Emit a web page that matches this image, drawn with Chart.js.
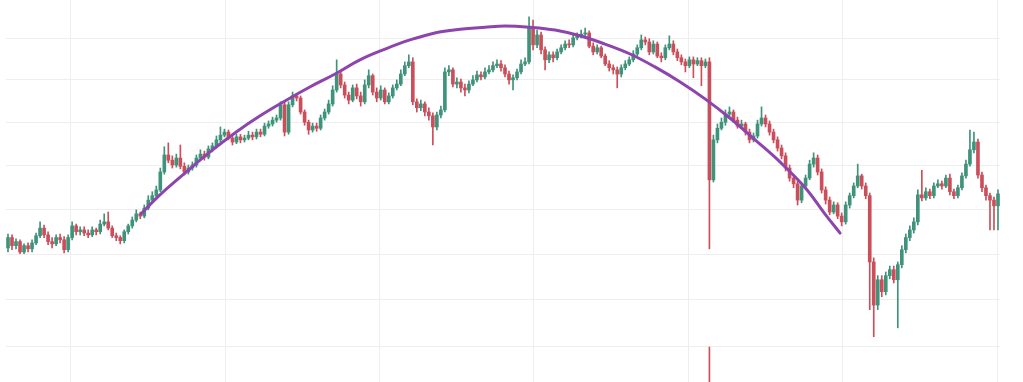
<!DOCTYPE html>
<html><head><meta charset="utf-8">
<script src="https://cdn.jsdelivr.net/npm/chart.js@4.4.1/dist/chart.umd.min.js"></script>
<style>html,body{margin:0;padding:0;background:#fff;}#wrap{width:1023px;height:382px;position:relative;}</style>
</head><body><div id="wrap"><canvas id="c"></canvas></div>
<script>
// OHLC prices, one candle per period
const openP = [
5114,5137,5119,5128,5105,5119,5112,5125,5141,5158,
5143,5128,5123,5137,5132,5110,5137,5163,5150,5154,
5147,5143,5154,5150,5167,5172,5158,5141,5137,5130,
5150,5163,5176,5190,5185,5203,5221,5231,5244,5285,
5324,5312,5301,5317,5298,5285,5294,5301,5317,5326,
5319,5338,5345,5359,5370,5377,5363,5354,5366,5359,
5363,5370,5366,5377,5372,5391,5396,5405,5410,5441,
5377,5441,5462,5457,5424,5400,5382,5391,5386,5410,
5424,5443,5476,5514,5488,5464,5452,5481,5462,5448,
5488,5510,5471,5457,5476,5448,5462,5481,5490,5514,
5534,5543,5448,5434,5443,5424,5415,5389,5417,5429,
5519,5524,5490,5495,5481,5476,5490,5500,5512,5507,
5519,5524,5534,5538,5529,5514,5500,5505,5519,5538,
5543,5625,5584,5608,5572,5548,5560,5553,5567,5577,
5586,5584,5601,5606,5610,5613,5581,5567,5577,5557,
5538,5529,5524,5514,5529,5538,5548,5562,5577,5596,
5591,5567,5586,5557,5553,5577,5586,5567,5553,5543,
5534,5548,5538,5546,5534,5543,5267,5359,5386,5400,
5419,5424,5405,5391,5396,5377,5359,5368,5396,5410,
5396,5377,5359,5340,5322,5294,5271,5258,5221,5253,
5271,5303,5317,5285,5244,5221,5194,5210,5185,5172,
5210,5231,5253,5276,5253,5231,5083,4989,5044,5018,
5053,5066,5044,5077,5110,5137,5154,5172,5233,5226,
5240,5231,5253,5258,5253,5271,5240,5231,5249,5276,
5303,5336,5354,5278,5249,5231,5221,5208];
const closeP = [
5137,5119,5128,5105,5119,5112,5125,5141,5158,5143,
5128,5123,5137,5132,5110,5137,5163,5150,5154,5147,
5143,5154,5150,5167,5172,5158,5141,5137,5130,5150,
5163,5176,5190,5185,5203,5221,5231,5244,5285,5324,
5312,5301,5317,5298,5285,5294,5301,5317,5326,5319,
5338,5345,5359,5370,5377,5363,5354,5366,5359,5363,
5370,5366,5377,5372,5391,5396,5405,5410,5441,5377,
5441,5462,5457,5424,5400,5382,5391,5386,5410,5424,
5443,5476,5514,5488,5464,5452,5481,5462,5448,5488,
5510,5471,5457,5476,5448,5462,5481,5490,5514,5534,
5543,5448,5434,5443,5424,5415,5389,5417,5429,5519,
5524,5490,5495,5481,5476,5490,5500,5512,5507,5519,
5524,5534,5538,5529,5514,5500,5505,5519,5538,5543,
5625,5584,5608,5572,5548,5560,5553,5567,5577,5586,
5584,5601,5606,5610,5613,5581,5567,5577,5557,5538,
5529,5524,5514,5529,5538,5548,5562,5577,5596,5591,
5567,5586,5557,5553,5577,5586,5567,5553,5543,5534,
5548,5538,5546,5534,5543,5267,5359,5386,5400,5419,
5424,5405,5391,5396,5377,5359,5368,5396,5410,5396,
5377,5359,5340,5322,5294,5271,5258,5221,5253,5271,
5303,5317,5285,5244,5221,5194,5210,5185,5172,5210,
5231,5253,5276,5253,5231,5083,4989,5044,5018,5053,
5066,5044,5077,5110,5137,5154,5172,5233,5226,5240,
5231,5253,5258,5253,5271,5240,5231,5249,5276,5303,
5336,5354,5278,5249,5231,5221,5208,5235];
const highP = [
5145,5143,5134,5132,5123,5125,5132,5147,5172,5165,
5150,5137,5143,5145,5139,5143,5172,5167,5161,5161,
5154,5161,5158,5176,5190,5194,5163,5147,5141,5154,
5167,5183,5199,5194,5210,5231,5240,5253,5294,5343,
5352,5322,5326,5347,5306,5301,5308,5324,5336,5333,
5345,5352,5368,5389,5384,5382,5370,5372,5372,5370,
5379,5377,5384,5384,5398,5403,5412,5417,5448,5450,
5448,5471,5467,5462,5429,5405,5398,5398,5417,5431,
5452,5486,5548,5519,5495,5471,5488,5490,5471,5500,
5524,5514,5481,5486,5481,5469,5488,5500,5524,5543,
5560,5553,5455,5452,5448,5434,5422,5424,5438,5529,
5534,5529,5505,5502,5490,5498,5510,5521,5519,5529,
5534,5543,5548,5546,5536,5521,5512,5526,5548,5553,
5652,5644,5620,5615,5579,5567,5567,5574,5584,5594,
5596,5608,5613,5620,5625,5618,5589,5584,5581,5562,
5546,5536,5531,5536,5546,5555,5570,5584,5608,5603,
5599,5594,5591,5565,5584,5606,5594,5574,5560,5550,
5555,5555,5553,5553,5550,5553,5370,5396,5410,5429,
5436,5429,5412,5405,5400,5384,5375,5405,5436,5417,
5403,5384,5366,5347,5329,5301,5278,5264,5260,5278,
5312,5329,5324,5292,5251,5228,5217,5215,5192,5217,
5237,5260,5303,5280,5260,5237,5092,5053,5053,5061,
5074,5074,5083,5119,5145,5163,5181,5244,5289,5249,
5246,5260,5267,5264,5278,5280,5246,5255,5283,5312,
5382,5377,5361,5285,5255,5237,5228,5244];
const lowP = [
5105,5110,5112,5101,5101,5105,5105,5121,5137,5137,
5121,5114,5119,5125,5103,5105,5132,5143,5143,5141,
5137,5139,5143,5145,5163,5154,5137,5130,5123,5125,
5145,5158,5172,5179,5181,5199,5215,5226,5240,5280,
5306,5294,5296,5292,5278,5280,5289,5296,5312,5312,
5315,5331,5340,5354,5366,5359,5347,5350,5352,5354,
5359,5359,5361,5366,5368,5386,5391,5400,5405,5368,
5372,5436,5450,5419,5393,5372,5377,5379,5382,5405,
5419,5438,5471,5481,5457,5443,5448,5455,5438,5443,
5481,5464,5448,5452,5443,5443,5457,5476,5486,5510,
5529,5441,5424,5427,5415,5405,5347,5382,5410,5424,
5510,5483,5481,5471,5462,5469,5486,5495,5500,5502,
5514,5519,5529,5521,5507,5490,5476,5500,5514,5534,
5538,5572,5577,5562,5524,5541,5543,5548,5562,5572,
5577,5579,5596,5601,5603,5577,5560,5562,5553,5534,
5521,5514,5481,5507,5524,5534,5543,5557,5572,5584,
5560,5562,5553,5543,5548,5572,5560,5546,5536,5519,
5529,5505,5534,5486,5529,5112,5262,5352,5382,5393,
5415,5400,5386,5386,5370,5352,5354,5363,5391,5389,
5370,5352,5333,5315,5287,5264,5249,5210,5215,5246,
5267,5296,5278,5237,5212,5188,5190,5179,5163,5167,
5203,5226,5249,5246,5224,4979,4921,4979,5007,5011,
5046,5037,4940,5070,5103,5130,5147,5165,5219,5221,
5224,5226,5249,5246,5249,5233,5224,5226,5244,5271,
5298,5329,5271,5240,5221,5154,5154,5154];

// lower part of the long wick of the crash candle (separate visible segment)
const tailIndex = [175];
const tailRange = [[4780, 4899]];

// purple arc drawn over the candles
const arcIndex = [33.2,37.9,44.2,50.4,56.6,62.9,69.1,75.3,81.6,87.8,94.1,100.3,106.5,112.8,119.0,124.0,130.2,136.5,142.7,148.9,155.2,161.4,167.7,173.9,180.1,186.4,192.6,198.9,203.8,207.6];
const arcPrice = [5190,5233,5283,5331,5375,5415,5450,5483,5514,5548,5574,5596,5613,5622,5627,5630,5627,5620,5606,5586,5562,5531,5495,5455,5410,5359,5308,5249,5190,5147];

// grid positions
const xGridTicks = [15.7, 54.2, 92.7, 131.2, 169.7, 208.3, 246.8];
const yGridTicks = [4900, 5000, 5100, 5200, 5300, 5400, 5500, 5600];
const yMin = 4825.5, yMax = 5693.6;

const N = closeP.length;
const idx = openP.map((_, i) => i);
const upColor = '#3f937a', downColor = '#cb4f5a';
const colorFor = i => (closeP[i] >= openP[i] ? upColor : downColor);

const wickData = idx.map(i => ({x: i, y: [lowP[i], highP[i]]}));
const bodyData = idx.map(i => ({x: i, y: [openP[i], closeP[i]]}));
const tailData = tailIndex.map((k, j) => ({x: k, y: tailRange[j]}));
const arcData = arcIndex.map((k, j) => ({x: k, y: arcPrice[j]}));

const gridColor = '#eeeeee';
new Chart(document.getElementById('c'), {
  type: 'bar',
  data: {
    datasets: [
      {type: 'line', data: arcData, borderColor: '#8e44ad', borderWidth: 3, pointRadius: 0, tension: 0.4, fill: false, order: 0, borderCapStyle: 'round'},
      {data: bodyData, backgroundColor: ctx => colorFor(ctx.dataIndex), barThickness: 3, minBarLength: 1, grouped: false, order: 1, borderWidth: 0},
      {data: wickData, backgroundColor: ctx => colorFor(ctx.dataIndex), barThickness: 1, grouped: false, order: 2, borderWidth: 0},
      {data: tailData, backgroundColor: downColor, barThickness: 1, grouped: false, order: 2, borderWidth: 0}
    ]
  },
  options: {
    responsive: true, maintainAspectRatio: false, animation: false,
    layout: {padding: {left: 6, right: 23, top: 0, bottom: 0}},
    plugins: {legend: {display: false}, tooltip: {enabled: false}},
    scales: {
      x: {
        type: 'linear', min: -0.5, max: N - 0.5, offset: false, bounds: 'data',
        ticks: {display: false},
        grid: {color: gridColor, drawTicks: false, offset: false},
        border: {display: false},
        afterBuildTicks: s => { s.ticks = xGridTicks.map(v => ({value: v})); }
      },
      y: {
        type: 'logarithmic', min: yMin, max: yMax, bounds: 'data', beginAtZero: false,
        ticks: {display: false},
        grid: {color: gridColor, drawTicks: false},
        border: {display: false},
        afterBuildTicks: s => { s.ticks = yGridTicks.map(v => ({value: v})); }
      }
    }
  }
});
</script>
</body></html>
